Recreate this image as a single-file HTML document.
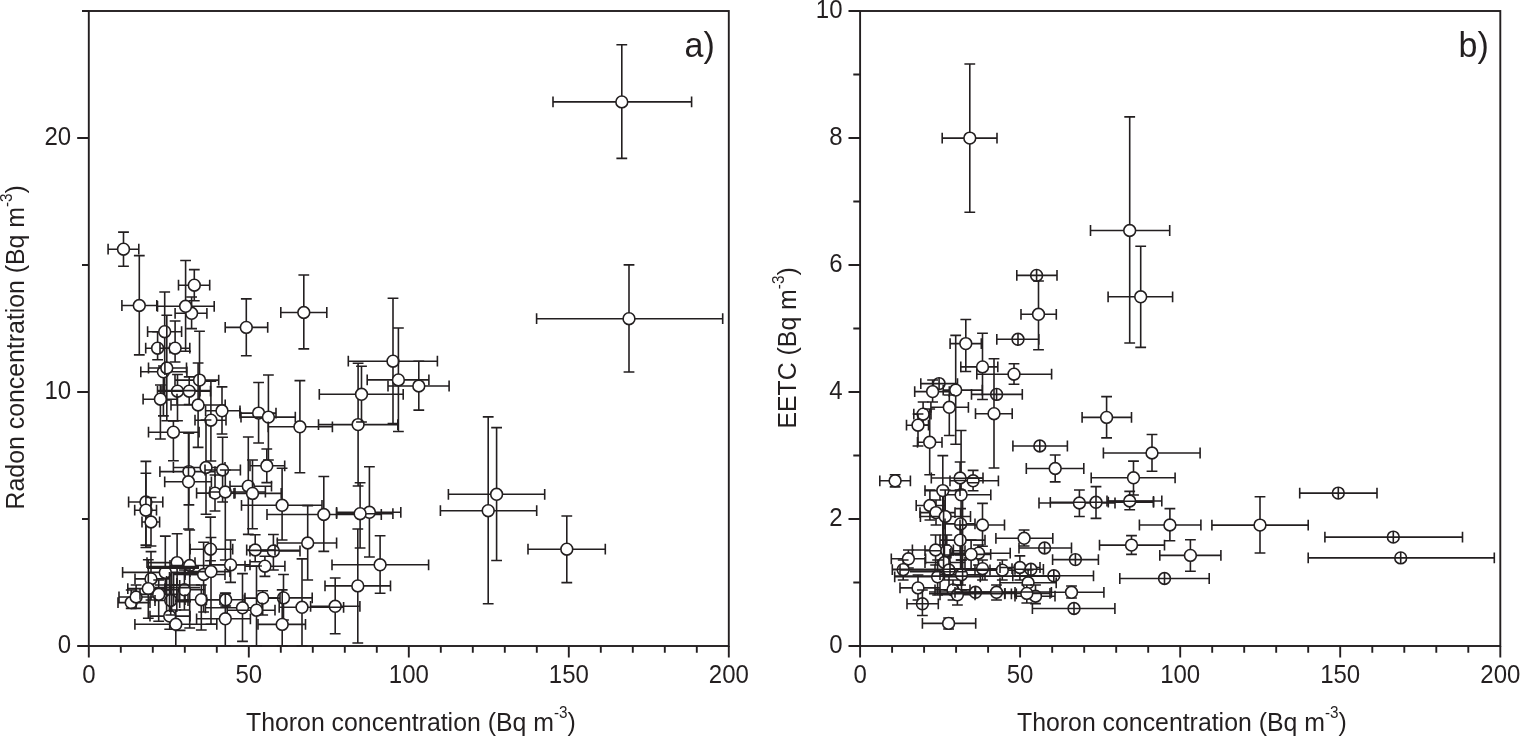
<!DOCTYPE html>
<html><head><meta charset="utf-8"><title>Radon and thoron scatter plots</title><style>
html,body{margin:0;padding:0;background:#fff;}
body{width:1520px;height:736px;overflow:hidden;}
svg{display:block;}
.ax{fill:none;stroke:#231f20;stroke-width:1.9;stroke-linecap:butt;}
rect.ax{stroke-linecap:butt;}
.b{fill:none;stroke:#231f20;stroke-width:1.6;stroke-linecap:butt;}
.pts circle{fill:#fff;stroke:#231f20;stroke-width:1.6;}
text{font-family:"Liberation Sans",Arial,sans-serif;fill:#231f20;}
.tl{font-size:24px;}
.pl{font-size:34px;}
.at{font-size:24.85px;}
.sup{font-size:15.3px;}
</style></head><body>
<svg width="1520" height="736" viewBox="0 0 1520 736">
<rect width="1520" height="736" fill="#fff"/>
<rect class="ax" x="88.8" y="11" width="640" height="635"/>
<path class="ax" d="M88.8 646v11.6M120.8 646v6.8M152.8 646v6.8M184.8 646v6.8M216.8 646v6.8M248.8 646v11.6M280.8 646v6.8M312.8 646v6.8M344.8 646v6.8M376.8 646v6.8M408.8 646v11.6M440.8 646v6.8M472.8 646v6.8M504.8 646v6.8M536.8 646v6.8M568.8 646v11.6M600.8 646v6.8M632.8 646v6.8M664.8 646v6.8M696.8 646v6.8M728.8 646v11.6M88.8 646h-11.6M88.8 392h-11.6M88.8 138h-11.6M88.8 519h-6.8M88.8 265h-6.8M88.8 11h-6.8"/>
<text class="tl" transform="translate(88.8 682.8) scale(1 1.05)" text-anchor="middle">0</text>
<text class="tl" transform="translate(248.8 682.8) scale(1 1.05)" text-anchor="middle">50</text>
<text class="tl" transform="translate(408.8 682.8) scale(1 1.05)" text-anchor="middle">100</text>
<text class="tl" transform="translate(568.8 682.8) scale(1 1.05)" text-anchor="middle">150</text>
<text class="tl" transform="translate(728.8 682.8) scale(1 1.05)" text-anchor="middle">200</text>
<text class="tl" transform="translate(71.2 652.9) scale(1 1.05)" text-anchor="end">0</text>
<text class="tl" transform="translate(71.2 398.9) scale(1 1.05)" text-anchor="end">10</text>
<text class="tl" transform="translate(71.2 144.9) scale(1 1.05)" text-anchor="end">20</text>
<rect class="ax" x="860.1" y="11" width="640.2" height="635"/>
<path class="ax" d="M860.1 646v11.6M892.1 646v6.8M924.1 646v6.8M956.1 646v6.8M988.1 646v6.8M1020.1 646v11.6M1052.2 646v6.8M1084.2 646v6.8M1116.2 646v6.8M1148.2 646v6.8M1180.2 646v11.6M1212.2 646v6.8M1244.2 646v6.8M1276.2 646v6.8M1308.2 646v6.8M1340.2 646v11.6M1372.3 646v6.8M1404.3 646v6.8M1436.3 646v6.8M1468.3 646v6.8M1500.3 646v11.6M860.1 646h-11.6M860.1 519h-11.6M860.1 392h-11.6M860.1 265h-11.6M860.1 138h-11.6M860.1 11h-11.6M860.1 582.5h-6.8M860.1 455.5h-6.8M860.1 328.5h-6.8M860.1 201.5h-6.8M860.1 74.5h-6.8"/>
<text class="tl" transform="translate(860.1 682.8) scale(1 1.05)" text-anchor="middle">0</text>
<text class="tl" transform="translate(1020.1 682.8) scale(1 1.05)" text-anchor="middle">50</text>
<text class="tl" transform="translate(1180.2 682.8) scale(1 1.05)" text-anchor="middle">100</text>
<text class="tl" transform="translate(1340.2 682.8) scale(1 1.05)" text-anchor="middle">150</text>
<text class="tl" transform="translate(1500.3 682.8) scale(1 1.05)" text-anchor="middle">200</text>
<text class="tl" transform="translate(842.5 652.9) scale(1 1.05)" text-anchor="end">0</text>
<text class="tl" transform="translate(842.5 525.9) scale(1 1.05)" text-anchor="end">2</text>
<text class="tl" transform="translate(842.5 398.9) scale(1 1.05)" text-anchor="end">4</text>
<text class="tl" transform="translate(842.5 271.9) scale(1 1.05)" text-anchor="end">6</text>
<text class="tl" transform="translate(842.5 144.9) scale(1 1.05)" text-anchor="end">8</text>
<text class="tl" transform="translate(842.5 17.9) scale(1 1.05)" text-anchor="end">10</text>
<g class="pts">
<path class="b" d="M553 101.9H691.6M621.8 44.8V158.4M553 96.5v10.8M691.6 96.5v10.8M616.4 44.8h10.8M616.4 158.4h10.8"/>
<circle cx="621.8" cy="101.9" r="5.9"/>
<path class="b" d="M536.6 318.7H722.7M629 264.9V372M536.6 313.3v10.8M722.7 313.3v10.8M623.6 264.9h10.8M623.6 372h10.8"/>
<circle cx="629" cy="318.7" r="5.9"/>
<path class="b" d="M448.4 494.3H544.7M496.6 427.6V560.5M448.4 488.9v10.8M544.7 488.9v10.8M491.2 427.6h10.8M491.2 560.5h10.8"/>
<circle cx="496.6" cy="494.3" r="5.9"/>
<path class="b" d="M440.4 510.7H536.7M488.2 416.9V603.7M440.4 505.3v10.8M536.7 505.3v10.8M482.8 416.9h10.8M482.8 603.7h10.8"/>
<circle cx="488.2" cy="510.7" r="5.9"/>
<path class="b" d="M528 549.2H605.3M566.8 516V582.6M528 543.8v10.8M605.3 543.8v10.8M561.4 516h10.8M561.4 582.6h10.8"/>
<circle cx="566.8" cy="549.2" r="5.9"/>
<path class="b" d="M108.1 249.2H138.8M123.5 232.1V266.2M108.1 243.8v10.8M138.8 243.8v10.8M118.1 232.1h10.8M118.1 266.2h10.8"/>
<circle cx="123.5" cy="249.2" r="5.9"/>
<path class="b" d="M121.9 305.5H156.8M139.3 255.6V354.9M121.9 300.1v10.8M156.8 300.1v10.8M133.9 255.6h10.8M133.9 354.9h10.8"/>
<circle cx="139.3" cy="305.5" r="5.9"/>
<path class="b" d="M178.5 285.2H209.7M194.3 269.6V300.8M178.5 279.8v10.8M209.7 279.8v10.8M188.9 269.6h10.8M188.9 300.8h10.8"/>
<circle cx="194.3" cy="285.2" r="5.9"/>
<path class="b" d="M175.1 313.3H206.9M191.6 297V328.6M175.1 307.9v10.8M206.9 307.9v10.8M186.2 297h10.8M186.2 328.6h10.8"/>
<circle cx="191.6" cy="313.3" r="5.9"/>
<path class="b" d="M157.5 306.3H214.2M185.6 260.5V351.2M157.5 300.9v10.8M214.2 300.9v10.8M180.2 260.5h10.8M180.2 351.2h10.8"/>
<circle cx="185.6" cy="306.3" r="5.9"/>
<path class="b" d="M225.2 327.4H267.7M246.3 298.9V355.8M225.2 322v10.8M267.7 322v10.8M240.9 298.9h10.8M240.9 355.8h10.8"/>
<circle cx="246.3" cy="327.4" r="5.9"/>
<path class="b" d="M280.8 312.5H326.8M303.8 275V348.9M280.8 307.1v10.8M326.8 307.1v10.8M298.4 275h10.8M298.4 348.9h10.8"/>
<circle cx="303.8" cy="312.5" r="5.9"/>
<path class="b" d="M145.7 348.2H170M157.6 331.7V359.8M145.7 342.8v10.8M170 342.8v10.8M152.2 331.7h10.8M152.2 359.8h10.8"/>
<circle cx="157.6" cy="348.2" r="5.9"/>
<path class="b" d="M160 348.2H189.8M175.1 321V362M160 342.8v10.8M189.8 342.8v10.8M169.7 321h10.8M169.7 362h10.8"/>
<circle cx="175.1" cy="348.2" r="5.9"/>
<path class="b" d="M147.6 331.7H181.6M164.7 292V400M147.6 326.3v10.8M181.6 326.3v10.8M159.3 292h10.8M159.3 400h10.8"/>
<circle cx="164.7" cy="331.7" r="5.9"/>
<path class="b" d="M140.8 371.8H186.9M163.4 366V415.9M140.8 366.4v10.8M186.9 366.4v10.8M158 366h10.8M158 415.9h10.8"/>
<circle cx="163.4" cy="371.8" r="5.9"/>
<path class="b" d="M148.5 368H186.5M166.8 315.2V420.8M148.5 362.6v10.8M186.5 362.6v10.8M161.4 315.2h10.8M161.4 420.8h10.8"/>
<circle cx="166.8" cy="368" r="5.9"/>
<path class="b" d="M175 380.1H218.7M199.5 331.3V405M175 374.7v10.8M218.7 374.7v10.8M194.1 331.3h10.8M194.1 405h10.8"/>
<circle cx="199.5" cy="380.1" r="5.9"/>
<path class="b" d="M162 391.2H200M177.5 374.5V420.8M162 385.8v10.8M200 385.8v10.8M172.1 374.5h10.8M172.1 420.8h10.8"/>
<circle cx="177.5" cy="391.2" r="5.9"/>
<path class="b" d="M157.5 391.2H210.5M189.2 376.9V404.5M157.5 385.8v10.8M210.5 385.8v10.8M183.8 376.9h10.8M183.8 404.5h10.8"/>
<circle cx="189.2" cy="391.2" r="5.9"/>
<path class="b" d="M143.1 399.2H177M160.4 385V439M143.1 393.8v10.8M177 393.8v10.8M155 385h10.8M155 439h10.8"/>
<circle cx="160.4" cy="399.2" r="5.9"/>
<path class="b" d="M171 405H225.2M198.1 363V447.4M171 399.6v10.8M225.2 399.6v10.8M192.7 363h10.8M192.7 447.4h10.8"/>
<circle cx="198.1" cy="405" r="5.9"/>
<path class="b" d="M205.6 410.8H240M222 386.9V434M205.6 405.4v10.8M240 405.4v10.8M216.6 386.9h10.8M216.6 434h10.8"/>
<circle cx="222" cy="410.8" r="5.9"/>
<path class="b" d="M195 420.2H226M210.9 381.3V461M195 414.8v10.8M226 414.8v10.8M205.5 381.3h10.8M205.5 461h10.8"/>
<circle cx="210.9" cy="420.2" r="5.9"/>
<path class="b" d="M240 413.1H276M258.6 382.5V443M240 407.7v10.8M276 407.7v10.8M253.2 382.5h10.8M253.2 443h10.8"/>
<circle cx="258.6" cy="413.1" r="5.9"/>
<path class="b" d="M241 417.1H295.3M268.4 375V460M241 411.7v10.8M295.3 411.7v10.8M263 375h10.8M263 460h10.8"/>
<circle cx="268.4" cy="417.1" r="5.9"/>
<path class="b" d="M148.5 432.2H199.1M173.4 421V460.7M148.5 426.8v10.8M199.1 426.8v10.8M168 421h10.8M168 460.7h10.8"/>
<circle cx="173.4" cy="432.2" r="5.9"/>
<path class="b" d="M268.2 426.8H332.4M299.9 380.6V472.8M268.2 421.4v10.8M332.4 421.4v10.8M294.5 380.6h10.8M294.5 472.8h10.8"/>
<circle cx="299.9" cy="426.8" r="5.9"/>
<path class="b" d="M318.5 424.6H397.8M358.1 363.2V486M318.5 419.2v10.8M397.8 419.2v10.8M352.7 363.2h10.8M352.7 486h10.8"/>
<circle cx="358.1" cy="424.6" r="5.9"/>
<path class="b" d="M319.3 394.3H403.2M361.5 366.3V422M319.3 388.9v10.8M403.2 388.9v10.8M356.1 366.3h10.8M356.1 422h10.8"/>
<circle cx="361.5" cy="394.3" r="5.9"/>
<path class="b" d="M348.3 361.2H437.4M393 298.3V423.6M348.3 355.8v10.8M437.4 355.8v10.8M387.6 298.3h10.8M387.6 423.6h10.8"/>
<circle cx="393" cy="361.2" r="5.9"/>
<path class="b" d="M367.2 379.9H428.9M398.4 328V431.5M367.2 374.5v10.8M428.9 374.5v10.8M393 328h10.8M393 431.5h10.8"/>
<circle cx="398.4" cy="379.9" r="5.9"/>
<path class="b" d="M388 386H449.1M418.8 361.2V410.1M388 380.6v10.8M449.1 380.6v10.8M413.4 361.2h10.8M413.4 410.1h10.8"/>
<circle cx="418.8" cy="386" r="5.9"/>
<path class="b" d="M250 465.8H284.7M266.8 449V482.6M250 460.4v10.8M284.7 460.4v10.8M261.4 449h10.8M261.4 482.6h10.8"/>
<circle cx="266.8" cy="465.8" r="5.9"/>
<path class="b" d="M159.9 471.6H215M188.9 432.9V504.9M159.9 466.2v10.8M215 466.2v10.8M183.5 432.9h10.8M183.5 504.9h10.8"/>
<circle cx="188.9" cy="471.6" r="5.9"/>
<path class="b" d="M173.4 467.5H225M206 420V514.3M173.4 462.1v10.8M225 462.1v10.8M200.6 420h10.8M200.6 514.3h10.8"/>
<circle cx="206" cy="467.5" r="5.9"/>
<path class="b" d="M205 470H240.4M222.6 437.3V502M205 464.6v10.8M240.4 464.6v10.8M217.2 437.3h10.8M217.2 502h10.8"/>
<circle cx="222.6" cy="470" r="5.9"/>
<path class="b" d="M164.7 481.8H211.4M188.5 433V529M164.7 476.4v10.8M211.4 476.4v10.8M183.1 433h10.8M183.1 529h10.8"/>
<circle cx="188.5" cy="481.8" r="5.9"/>
<path class="b" d="M196.6 493.1H235M215 475V511M196.6 487.7v10.8M235 487.7v10.8M209.6 475h10.8M209.6 511h10.8"/>
<circle cx="215" cy="493.1" r="5.9"/>
<path class="b" d="M210 492H265.4M225.3 470V560M210 486.6v10.8M265.4 486.6v10.8M219.9 470h10.8M219.9 560h10.8"/>
<circle cx="225.3" cy="492" r="5.9"/>
<path class="b" d="M230 486.2H271.5M248.3 437V534.4M230 480.8v10.8M271.5 480.8v10.8M242.9 437h10.8M242.9 534.4h10.8"/>
<circle cx="248.3" cy="486.2" r="5.9"/>
<path class="b" d="M234 493.4H281.2M252.5 460V528.8M234 488v10.8M281.2 488v10.8M247.1 460h10.8M247.1 528.8h10.8"/>
<circle cx="252.5" cy="493.4" r="5.9"/>
<path class="b" d="M128.6 502H162.8M145.9 461.4V545.1M128.6 496.6v10.8M162.8 496.6v10.8M140.5 461.4h10.8M140.5 545.1h10.8"/>
<circle cx="145.9" cy="502" r="5.9"/>
<path class="b" d="M134.7 510.2H156.5M145.9 473.2V547.5M134.7 504.8v10.8M156.5 504.8v10.8M140.5 473.2h10.8M140.5 547.5h10.8"/>
<circle cx="145.9" cy="510.2" r="5.9"/>
<path class="b" d="M142 522H159.6M151 497.5V546M142 516.6v10.8M159.6 516.6v10.8M145.6 497.5h10.8M145.6 546h10.8"/>
<circle cx="151" cy="522" r="5.9"/>
<path class="b" d="M241.5 505.3H322M282.1 468.3V540M241.5 499.9v10.8M322 499.9v10.8M276.7 468.3h10.8M276.7 540h10.8"/>
<circle cx="282.1" cy="505.3" r="5.9"/>
<path class="b" d="M267 514.5H381.3M323.8 476.5V551.4M267 509.1v10.8M381.3 509.1v10.8M318.4 476.5h10.8M318.4 551.4h10.8"/>
<circle cx="323.8" cy="514.5" r="5.9"/>
<path class="b" d="M336.6 512.3H400.8M369.4 466.7V557M336.6 506.9v10.8M400.8 506.9v10.8M364 466.7h10.8M364 557h10.8"/>
<circle cx="369.4" cy="512.3" r="5.9"/>
<path class="b" d="M336.6 513.7H392.9M360.1 482.8V548M336.6 508.3v10.8M392.9 508.3v10.8M354.7 482.8h10.8M354.7 548h10.8"/>
<circle cx="360.1" cy="513.7" r="5.9"/>
<path class="b" d="M277.3 543H336.6M307.7 505.6V580M277.3 537.6v10.8M336.6 537.6v10.8M302.3 505.6h10.8M302.3 580h10.8"/>
<circle cx="307.7" cy="543" r="5.9"/>
<path class="b" d="M250 551H300M273.4 534.5V570M250 545.6v10.8M300 545.6v10.8M268 534.5h10.8M268 570h10.8"/>
<circle cx="273.4" cy="551" r="5.9"/>
<path class="b" d="M245 566.2H284.9M264.9 556.3V576.4M245 560.8v10.8M284.9 560.8v10.8M259.5 556.3h10.8M259.5 576.4h10.8"/>
<circle cx="264.9" cy="566.2" r="5.9"/>
<path class="b" d="M332 564.8H428.6M380.1 535.7V593.2M332 559.4v10.8M428.6 559.4v10.8M374.7 535.7h10.8M374.7 593.2h10.8"/>
<circle cx="380.1" cy="564.8" r="5.9"/>
<path class="b" d="M325 585.9H390.5M357.8 529V643M325 580.5v10.8M390.5 580.5v10.8M352.4 529h10.8M352.4 643h10.8"/>
<circle cx="357.8" cy="585.9" r="5.9"/>
<path class="b" d="M310.6 606.3H359.9M335.2 578V633.8M310.6 600.9v10.8M359.9 600.9v10.8M329.8 578h10.8M329.8 633.8h10.8"/>
<circle cx="335.2" cy="606.3" r="5.9"/>
<path class="b" d="M279.2 607.3H343.6M302 558.9V645.8M279.2 601.9v10.8M343.6 601.9v10.8M296.6 558.9h10.8M296.6 645.8h10.8"/>
<circle cx="302" cy="607.3" r="5.9"/>
<path class="b" d="M262 597.9H312.2M283.5 574.5V620M262 592.5v10.8M312.2 592.5v10.8M278.1 574.5h10.8M278.1 620h10.8"/>
<circle cx="283.5" cy="597.9" r="5.9"/>
<path class="b" d="M258 624.4H305.5M282.2 589.9V645.8M258 619v10.8M305.5 619v10.8M276.8 589.9h10.8M276.8 645.8h10.8"/>
<circle cx="282.2" cy="624.4" r="5.9"/>
<path class="b" d="M245 598.1H280M262.7 590.7V615M245 592.7v10.8M280 592.7v10.8M257.3 590.7h10.8M257.3 615h10.8"/>
<circle cx="262.7" cy="598.1" r="5.9"/>
<path class="b" d="M190.1 549.2H232.7M210.5 517.1V560.8M190.1 543.8v10.8M232.7 543.8v10.8M205.1 517.1h10.8M205.1 560.8h10.8"/>
<circle cx="210.5" cy="549.2" r="5.9"/>
<path class="b" d="M210 564.9H250M230.6 540V582.4M210 559.5v10.8M250 559.5v10.8M225.2 540h10.8M225.2 582.4h10.8"/>
<circle cx="230.6" cy="564.9" r="5.9"/>
<path class="b" d="M246.7 550H275M255.2 534.7V561.8M246.7 544.6v10.8M275 544.6v10.8M249.8 534.7h10.8M249.8 561.8h10.8"/>
<circle cx="255.2" cy="550" r="5.9"/>
<path class="b" d="M147 562.6H195M177.1 533.7V585M147 557.2v10.8M195 557.2v10.8M171.7 533.7h10.8M171.7 585h10.8"/>
<circle cx="177.1" cy="562.6" r="5.9"/>
<path class="b" d="M170 565.5H210M189.7 530V628M170 560.1v10.8M210 560.1v10.8M184.3 530h10.8M184.3 628h10.8"/>
<circle cx="189.7" cy="565.5" r="5.9"/>
<path class="b" d="M122.6 572.4H185M165.3 536.1V590M122.6 567v10.8M185 567v10.8M159.9 536.1h10.8M159.9 590h10.8"/>
<circle cx="165.3" cy="572.4" r="5.9"/>
<path class="b" d="M185 574.5H225M203.6 542.2V612M185 569.1v10.8M225 569.1v10.8M198.2 542.2h10.8M198.2 612h10.8"/>
<circle cx="203.6" cy="574.5" r="5.9"/>
<path class="b" d="M190 571.6H230M211 537.5V624.3M190 566.2v10.8M230 566.2v10.8M205.6 537.5h10.8M205.6 624.3h10.8"/>
<circle cx="211" cy="571.6" r="5.9"/>
<path class="b" d="M135 578.9H170M151 551.6V600M135 573.5v10.8M170 573.5v10.8M145.6 551.6h10.8M145.6 600h10.8"/>
<circle cx="151" cy="578.9" r="5.9"/>
<path class="b" d="M127.8 588.6H165M148.3 559.8V618.2M127.8 583.2v10.8M165 583.2v10.8M142.9 559.8h10.8M142.9 618.2h10.8"/>
<circle cx="148.3" cy="588.6" r="5.9"/>
<path class="b" d="M118 602.6H150M131.2 590V608.4M118 597.2v10.8M150 597.2v10.8M125.8 590h10.8M125.8 608.4h10.8"/>
<circle cx="131.2" cy="602.6" r="5.9"/>
<path class="b" d="M119 597H155M136.1 585V608.4M119 591.6v10.8M155 591.6v10.8M130.7 585h10.8M130.7 608.4h10.8"/>
<circle cx="136.1" cy="597" r="5.9"/>
<path class="b" d="M140 594.4H178M158.7 580V621.2M140 589v10.8M178 589v10.8M153.3 580h10.8M153.3 621.2h10.8"/>
<circle cx="158.7" cy="594.4" r="5.9"/>
<path class="b" d="M165 589.8H205M184.4 570V610M165 584.4v10.8M205 584.4v10.8M179 570h10.8M179 610h10.8"/>
<circle cx="184.4" cy="589.8" r="5.9"/>
<path class="b" d="M185 599.7H220M201.3 585V630M185 594.3v10.8M220 594.3v10.8M195.9 585h10.8M195.9 630h10.8"/>
<circle cx="201.3" cy="599.7" r="5.9"/>
<path class="b" d="M206.4 599.8H244.3M225.7 593.4V606M206.4 594.4v10.8M244.3 594.4v10.8M220.3 593.4h10.8M220.3 606h10.8"/>
<circle cx="225.7" cy="599.8" r="5.9"/>
<path class="b" d="M205.4 607.8H262M242.5 573.6V641.4M205.4 602.4v10.8M262 602.4v10.8M237.1 573.6h10.8M237.1 641.4h10.8"/>
<circle cx="242.5" cy="607.8" r="5.9"/>
<path class="b" d="M227.2 610.2H275M256.5 566V645.8M227.2 604.8v10.8M275 604.8v10.8M251.1 566h10.8M251.1 645.8h10.8"/>
<circle cx="256.5" cy="610.2" r="5.9"/>
<path class="b" d="M196.6 618.8H250.4M225.3 593.4V645.8M196.6 613.4v10.8M250.4 613.4v10.8M219.9 593.4h10.8M219.9 645.8h10.8"/>
<circle cx="225.3" cy="618.8" r="5.9"/>
<path class="b" d="M150 616.1H190M169.7 600V629.2M150 610.7v10.8M190 610.7v10.8M164.3 600h10.8M164.3 629.2h10.8"/>
<circle cx="169.7" cy="616.1" r="5.9"/>
<path class="b" d="M134.9 624.3H216.8M175.8 610V645.8M134.9 618.9v10.8M216.8 618.9v10.8M170.4 610h10.8M170.4 645.8h10.8"/>
<circle cx="175.8" cy="624.3" r="5.9"/>
<path class="b" d="M155 600.5H188M170.7 585V615M155 595.1v10.8M188 595.1v10.8M165.3 585h10.8M165.3 615h10.8"/>
<circle cx="170.7" cy="600.5" r="5.9"/>
<path class="b" d="M942.2 138.1H997M969.8 64V212.2M942.2 132.7v10.8M997 132.7v10.8M964.4 64h10.8M964.4 212.2h10.8"/>
<circle cx="969.8" cy="138.1" r="5.9"/>
<path class="b" d="M1090.5 230.5H1169.7M1129.7 116.9V343M1090.5 225.1v10.8M1169.7 225.1v10.8M1124.3 116.9h10.8M1124.3 343h10.8"/>
<circle cx="1129.7" cy="230.5" r="5.9"/>
<path class="b" d="M1108.1 296.8H1172.6M1140.7 246.3V347.4M1108.1 291.4v10.8M1172.6 291.4v10.8M1135.3 246.3h10.8M1135.3 347.4h10.8"/>
<circle cx="1140.7" cy="296.8" r="5.9"/>
<circle cx="1036.6" cy="275.4" r="5.9"/>
<path class="b" d="M1016.8 275.4H1057M1016.8 270v10.8M1057 270v10.8M1036.6 269.5V281.3"/>
<path class="b" d="M1021 314.3H1056.3M1038.5 281V349.7M1021 308.9v10.8M1056.3 308.9v10.8M1033.1 281h10.8M1033.1 349.7h10.8"/>
<circle cx="1038.5" cy="314.3" r="5.9"/>
<path class="b" d="M950.1 343.6H981.3M965.8 319.5V371.5M950.1 338.2v10.8M981.3 338.2v10.8M960.4 319.5h10.8M960.4 371.5h10.8"/>
<circle cx="965.8" cy="343.6" r="5.9"/>
<circle cx="1018" cy="339.3" r="5.9"/>
<path class="b" d="M996.8 339.3H1038.8M996.8 333.9v10.8M1038.8 333.9v10.8M1018 333.4V345.2"/>
<path class="b" d="M960.8 366.9H997.8M982.5 333.2V399.5M960.8 361.5v10.8M997.8 361.5v10.8M977.1 333.2h10.8M977.1 399.5h10.8"/>
<circle cx="982.5" cy="366.9" r="5.9"/>
<path class="b" d="M976.8 374.2H1051.6M1014 363.8V384.2M976.8 368.8v10.8M1051.6 368.8v10.8M1008.6 363.8h10.8M1008.6 384.2h10.8"/>
<circle cx="1014" cy="374.2" r="5.9"/>
<circle cx="939.1" cy="383.6" r="5.9"/>
<path class="b" d="M920.8 383.6H957.5M920.8 378.2v10.8M957.5 378.2v10.8M939.1 377.7V389.5"/>
<path class="b" d="M914.7 391.6H949.3M932.6 380V402M914.7 386.2v10.8M949.3 386.2v10.8M927.2 380h10.8M927.2 402h10.8"/>
<circle cx="932.6" cy="391.6" r="5.9"/>
<path class="b" d="M943.2 390.1H982.3M955.7 335.4V444.3M943.2 384.7v10.8M982.3 384.7v10.8M950.3 335.4h10.8M950.3 444.3h10.8"/>
<circle cx="955.7" cy="390.1" r="5.9"/>
<circle cx="996.6" cy="394.4" r="5.9"/>
<path class="b" d="M971.5 394.4H1022.3M971.5 389v10.8M1022.3 389v10.8M996.6 388.5V400.3"/>
<path class="b" d="M930.9 407.3H968.4M949.3 395V435.5M930.9 401.9v10.8M968.4 401.9v10.8M943.9 395h10.8M943.9 435.5h10.8"/>
<circle cx="949.3" cy="407.3" r="5.9"/>
<path class="b" d="M913.8 414.2H931M923.1 402V425M913.8 408.8v10.8M931 408.8v10.8M917.7 402h10.8M917.7 425h10.8"/>
<circle cx="923.1" cy="414.2" r="5.9"/>
<path class="b" d="M906.5 425.2H928.5M918 414V446M906.5 419.8v10.8M928.5 419.8v10.8M912.6 414h10.8M912.6 446h10.8"/>
<circle cx="918" cy="425.2" r="5.9"/>
<path class="b" d="M917.5 442.3H942M929.7 409V474.8M917.5 436.9v10.8M942 436.9v10.8M924.3 409h10.8M924.3 474.8h10.8"/>
<circle cx="929.7" cy="442.3" r="5.9"/>
<path class="b" d="M975.5 413.7H1012.2M994 358.7V468M975.5 408.3v10.8M1012.2 408.3v10.8M988.6 358.7h10.8M988.6 468h10.8"/>
<circle cx="994" cy="413.7" r="5.9"/>
<circle cx="1039.8" cy="446" r="5.9"/>
<path class="b" d="M1012.9 446H1067.4M1012.9 440.6v10.8M1067.4 440.6v10.8M1039.8 440.1V451.9"/>
<path class="b" d="M1082.1 417.4H1131.5M1106.6 396.6V437.9M1082.1 412v10.8M1131.5 412v10.8M1101.2 396.6h10.8M1101.2 437.9h10.8"/>
<circle cx="1106.6" cy="417.4" r="5.9"/>
<path class="b" d="M1103.4 453H1200.1M1152 434.5V471.3M1103.4 447.6v10.8M1200.1 447.6v10.8M1146.6 434.5h10.8M1146.6 471.3h10.8"/>
<circle cx="1152" cy="453" r="5.9"/>
<path class="b" d="M1026.3 468.5H1083.8M1055.2 455V481.9M1026.3 463.1v10.8M1083.8 463.1v10.8M1049.8 455h10.8M1049.8 481.9h10.8"/>
<circle cx="1055.2" cy="468.5" r="5.9"/>
<path class="b" d="M1091.2 477.8H1175.1M1133.5 461.1V495M1091.2 472.4v10.8M1175.1 472.4v10.8M1128.1 461.1h10.8M1128.1 495h10.8"/>
<circle cx="1133.5" cy="477.8" r="5.9"/>
<path class="b" d="M879.8 480.8H910.4M895.1 474.7V486.9M879.8 475.4v10.8M910.4 475.4v10.8M889.7 474.7h10.8M889.7 486.9h10.8"/>
<circle cx="895.1" cy="480.8" r="5.9"/>
<path class="b" d="M940 494.8H990.8M961.1 430.5V560M940 489.4v10.8M990.8 489.4v10.8M955.7 430.5h10.8M955.7 560h10.8"/>
<circle cx="961.1" cy="494.8" r="5.9"/>
<path class="b" d="M950 480.8H998.4M973.1 470.4V490.8M950 475.4v10.8M998.4 475.4v10.8M967.7 470.4h10.8M967.7 490.8h10.8"/>
<circle cx="973.1" cy="480.8" r="5.9"/>
<path class="b" d="M931.3 478H983M960.1 462V490M931.3 472.6v10.8M983 472.6v10.8M954.7 462h10.8M954.7 490h10.8"/>
<circle cx="960.1" cy="478" r="5.9"/>
<path class="b" d="M925 490.6H960M942.8 455.6V560M925 485.2v10.8M960 485.2v10.8M937.4 455.6h10.8M937.4 560h10.8"/>
<circle cx="942.8" cy="490.6" r="5.9"/>
<path class="b" d="M916.2 505.5H945M929.9 490V520M916.2 500.1v10.8M945 500.1v10.8M924.5 490h10.8M924.5 520h10.8"/>
<circle cx="929.9" cy="505.5" r="5.9"/>
<path class="b" d="M920 512.6H955M936 500V525M920 507.2v10.8M955 507.2v10.8M930.6 500h10.8M930.6 525h10.8"/>
<circle cx="936" cy="512.6" r="5.9"/>
<path class="b" d="M920.4 516.5H970.5M945.2 490V575M920.4 511.1v10.8M970.5 511.1v10.8M939.8 490h10.8M939.8 575h10.8"/>
<circle cx="945.2" cy="516.5" r="5.9"/>
<path class="b" d="M945 523.9H975M960.6 508.6V585M945 518.5v10.8M975 518.5v10.8M955.2 508.6h10.8M955.2 585h10.8"/>
<circle cx="960.6" cy="523.9" r="5.9"/>
<path class="b" d="M960 525H1004.5M982.5 503.4V546.2M960 519.6v10.8M1004.5 519.6v10.8M977.1 503.4h10.8M977.1 546.2h10.8"/>
<circle cx="982.5" cy="525" r="5.9"/>
<path class="b" d="M940 540.1H985M960.2 525V555M940 534.7v10.8M985 534.7v10.8M954.8 525h10.8M954.8 555h10.8"/>
<circle cx="960.2" cy="540.1" r="5.9"/>
<path class="b" d="M995.9 538.3H1052.8M1024.1 530V546M995.9 532.9v10.8M1052.8 532.9v10.8M1018.7 530h10.8M1018.7 546h10.8"/>
<circle cx="1024.1" cy="538.3" r="5.9"/>
<circle cx="1044.6" cy="548" r="5.9"/>
<path class="b" d="M1019 548H1071.5M1019 542.6v10.8M1071.5 542.6v10.8M1044.6 542.1V553.9"/>
<circle cx="1075.4" cy="559.6" r="5.9"/>
<path class="b" d="M1052.6 559.6H1098.4M1052.6 554.2v10.8M1098.4 554.2v10.8M1075.4 553.7V565.5"/>
<path class="b" d="M912.4 550H953.4M935.6 535V565M912.4 544.6v10.8M953.4 544.6v10.8M930.2 535h10.8M930.2 565h10.8"/>
<circle cx="935.6" cy="550" r="5.9"/>
<path class="b" d="M925 550.7H965M946.8 535V570M925 545.3v10.8M965 545.3v10.8M941.4 535h10.8M941.4 570h10.8"/>
<circle cx="946.8" cy="550.7" r="5.9"/>
<path class="b" d="M950.9 553.2H1010.2M978.5 545V565M950.9 547.8v10.8M1010.2 547.8v10.8M973.1 545h10.8M973.1 565h10.8"/>
<circle cx="978.5" cy="553.2" r="5.9"/>
<path class="b" d="M950 554.4H990.7M971.1 540V570M950 549v10.8M990.7 549v10.8M965.7 540h10.8M965.7 570h10.8"/>
<circle cx="971.1" cy="554.4" r="5.9"/>
<path class="b" d="M891.3 558.8H925.6M908.4 550V568M891.3 553.4v10.8M925.6 553.4v10.8M903 550h10.8M903 568h10.8"/>
<circle cx="908.4" cy="558.8" r="5.9"/>
<path class="b" d="M925 562.5H965M944.4 545V580M925 557.1v10.8M965 557.1v10.8M939 545h10.8M939 580h10.8"/>
<circle cx="944.4" cy="562.5" r="5.9"/>
<path class="b" d="M892.3 569.7H935M903.2 560V580M892.3 564.3v10.8M935 564.3v10.8M897.8 560h10.8M897.8 580h10.8"/>
<circle cx="903.2" cy="569.7" r="5.9"/>
<path class="b" d="M900 570H990M949 555V590M900 564.6v10.8M990 564.6v10.8M943.6 555h10.8M943.6 590h10.8"/>
<circle cx="949" cy="570" r="5.9"/>
<path class="b" d="M894.7 576.8H980.3M937.6 560V595M894.7 571.4v10.8M980.3 571.4v10.8M932.2 560h10.8M932.2 595h10.8"/>
<circle cx="937.6" cy="576.8" r="5.9"/>
<path class="b" d="M940 574.7H985M961.5 560V590M940 569.3v10.8M985 569.3v10.8M956.1 560h10.8M956.1 590h10.8"/>
<circle cx="961.5" cy="574.7" r="5.9"/>
<path class="b" d="M950 568.7H1012M982.5 560V580M950 563.3v10.8M1012 563.3v10.8M977.1 560h10.8M977.1 580h10.8"/>
<circle cx="982.5" cy="568.7" r="5.9"/>
<path class="b" d="M975 570.2H1030M1002.3 560V580M975 564.8v10.8M1030 564.8v10.8M996.9 560h10.8M996.9 580h10.8"/>
<circle cx="1002.3" cy="570.2" r="5.9"/>
<path class="b" d="M1000 567.5H1040M1019.9 555.9V580M1000 562.1v10.8M1040 562.1v10.8M1014.5 555.9h10.8M1014.5 580h10.8"/>
<circle cx="1019.9" cy="567.5" r="5.9"/>
<circle cx="1030.9" cy="569.3" r="5.9"/>
<path class="b" d="M1015 569.3H1043.4M1015 563.9v10.8M1043.4 563.9v10.8M1030.9 563.4V575.2"/>
<circle cx="1053.8" cy="575.8" r="5.9"/>
<path class="b" d="M1012.8 575.8H1093.5M1012.8 570.4v10.8M1093.5 570.4v10.8M1053.8 569.9V581.7"/>
<path class="b" d="M1000 582.8H1056.2M1028.1 570V595M1000 577.4v10.8M1056.2 577.4v10.8M1022.7 570h10.8M1022.7 595h10.8"/>
<circle cx="1028.1" cy="582.8" r="5.9"/>
<path class="b" d="M900 587.9H940M918 575V600M900 582.5v10.8M940 582.5v10.8M912.6 575h10.8M912.6 600h10.8"/>
<circle cx="918" cy="587.9" r="5.9"/>
<path class="b" d="M935 589.9H970M953 580V600M935 584.5v10.8M970 584.5v10.8M947.6 580h10.8M947.6 600h10.8"/>
<circle cx="953" cy="589.9" r="5.9"/>
<path class="b" d="M940 594.8H975M957.4 585V605M940 589.4v10.8M975 589.4v10.8M952 585h10.8M952 605h10.8"/>
<circle cx="957.4" cy="594.8" r="5.9"/>
<circle cx="975.5" cy="592.3" r="5.9"/>
<path class="b" d="M955 592.3H995M955 586.9v10.8M995 586.9v10.8M975.5 586.4V598.2"/>
<path class="b" d="M975 592.3H1015M996.5 585V600M975 586.9v10.8M1015 586.9v10.8M991.1 585h10.8M991.1 600h10.8"/>
<circle cx="996.5" cy="592.3" r="5.9"/>
<path class="b" d="M1015 596.2H1055M1035.5 585V603.6M1015 590.8v10.8M1055 590.8v10.8M1030.1 585h10.8M1030.1 603.6h10.8"/>
<circle cx="1035.5" cy="596.2" r="5.9"/>
<path class="b" d="M1005 593.4H1050M1026.8 585V603M1005 588v10.8M1050 588v10.8M1021.4 585h10.8M1021.4 603h10.8"/>
<circle cx="1026.8" cy="593.4" r="5.9"/>
<path class="b" d="M1051.4 592.3H1103.9M1071.5 586V598M1051.4 586.9v10.8M1103.9 586.9v10.8M1066.1 586h10.8M1066.1 598h10.8"/>
<circle cx="1071.5" cy="592.3" r="5.9"/>
<circle cx="922.4" cy="603.8" r="5.9"/>
<path class="b" d="M907 603.8H938.3M922.4 590V615.5M907 598.4v10.8M938.3 598.4v10.8M917 590h10.8M917 615.5h10.8"/>
<circle cx="1074" cy="608.5" r="5.9"/>
<path class="b" d="M1032.4 608.5H1114.9M1032.4 603.1v10.8M1114.9 603.1v10.8M1074 602.6V614.4"/>
<path class="b" d="M922.4 623.4H975.7M948.6 618V629M922.4 618v10.8M975.7 618v10.8M943.2 618h10.8M943.2 629h10.8"/>
<circle cx="948.6" cy="623.4" r="5.9"/>
<path class="b" d="M1039 503H1115M1079.4 490V516.5M1039 497.6v10.8M1115 497.6v10.8M1074 490h10.8M1074 516.5h10.8"/>
<circle cx="1079.4" cy="503" r="5.9"/>
<circle cx="1096" cy="502.3" r="5.9"/>
<path class="b" d="M1050.3 502.3H1153.5M1096 486.6V518.4M1050.3 496.9v10.8M1153.5 496.9v10.8M1090.6 486.6h10.8M1090.6 518.4h10.8"/>
<path class="b" d="M1107 501H1161.8M1129.7 491.4V509.7M1107 495.6v10.8M1161.8 495.6v10.8M1124.3 491.4h10.8M1124.3 509.7h10.8"/>
<circle cx="1129.7" cy="501" r="5.9"/>
<path class="b" d="M1139.4 525H1200.9M1169.9 508.6V540.8M1139.4 519.6v10.8M1200.9 519.6v10.8M1164.5 508.6h10.8M1164.5 540.8h10.8"/>
<circle cx="1169.9" cy="525" r="5.9"/>
<path class="b" d="M1099.5 545.1H1164.5M1131.5 535.6V554.4M1099.5 539.7v10.8M1164.5 539.7v10.8M1126.1 535.6h10.8M1126.1 554.4h10.8"/>
<circle cx="1131.5" cy="545.1" r="5.9"/>
<path class="b" d="M1159.8 555.4H1220.9M1190.4 539.8V571.3M1159.8 550v10.8M1220.9 550v10.8M1185 539.8h10.8M1185 571.3h10.8"/>
<circle cx="1190.4" cy="555.4" r="5.9"/>
<circle cx="1164.5" cy="578.5" r="5.9"/>
<path class="b" d="M1119.8 578.5H1209.2M1119.8 573.1v10.8M1209.2 573.1v10.8M1164.5 572.6V584.4"/>
<circle cx="1338.3" cy="493.1" r="5.9"/>
<path class="b" d="M1299.7 493.1H1377M1299.7 487.7v10.8M1377 487.7v10.8M1338.3 487.2V499"/>
<path class="b" d="M1211.9 525.1H1308.2M1260 496.7V553M1211.9 519.7v10.8M1308.2 519.7v10.8M1254.6 496.7h10.8M1254.6 553h10.8"/>
<circle cx="1260" cy="525.1" r="5.9"/>
<circle cx="1393.3" cy="537.1" r="5.9"/>
<path class="b" d="M1324.9 537.1H1462.5M1324.9 531.7v10.8M1462.5 531.7v10.8M1393.3 531.2V543"/>
<circle cx="1400.7" cy="557.9" r="5.9"/>
<path class="b" d="M1308.2 557.9H1494.3M1308.2 552.5v10.8M1494.3 552.5v10.8M1400.7 552V563.8"/>
<path class="b" d="M157.5 390.6L210.5 390.6M164.9 361.5L164.9 375M166.6 576L166.6 612M169.5 572L169.5 612M171.6 572L171.6 612M173.6 572L173.6 606M176.8 578L176.8 612M179.7 580L179.7 608M174 572.8L198 572.8M174 574.4L198 574.4M155 585L200 585M155 587.6L200 587.6M175 600L191 600M175 601.6L191 601.6M147 566.6L199 566.6M147 568.2L199 568.2M174.5 630.4L185.5 630.4M247.6 550.4L299.6 550.4M221.7 593.6L229.7 593.6M221.7 606L229.7 606M892.2 569.3L997.4 569.3M910 571.8L966 571.8M895 576.1L1060 576.1M929 592L1051 592M929 593.8L1005 593.8M1004.7 588.4L1004.7 599.2M1011.4 588.4L1011.4 599.2M1016.3 588.4L1016.3 599.2M955 478.3L983 478.3M967 482.7L979 482.7M954 480.5L966 480.5M943.6 496L943.6 575M962.6 500L962.6 585M1108.3 501.2L1153.5 501.2M1108.3 496.8L1108.3 507.6M1153.5 496L1153.5 506.8"/>
</g>
<text class="pl" transform="translate(684.5 56.5) scale(1 1.03)">a)</text>
<text class="pl" transform="translate(1458.5 56.5) scale(1 1.03)">b)</text>
<text class="at" transform="translate(246 730.8) scale(1 1.04)">Thoron concentration (Bq m<tspan class="sup" dy="-12">-3</tspan><tspan dy="12">)</tspan></text>
<text class="at" transform="translate(1017 730.8) scale(1 1.04)">Thoron concentration (Bq m<tspan class="sup" dy="-12">-3</tspan><tspan dy="12">)</tspan></text>
<text class="at" transform="translate(24.3 509.4) rotate(-90) scale(1 1.04)">Radon concentration (Bq m<tspan class="sup" dy="-12">-3</tspan><tspan dy="12">)</tspan></text>
<text class="at" transform="translate(796.1 428.6) rotate(-90) scale(1 1.04)">EETC (Bq m<tspan class="sup" dy="-12">-3</tspan><tspan dy="12">)</tspan></text>
</svg>
</body></html>
